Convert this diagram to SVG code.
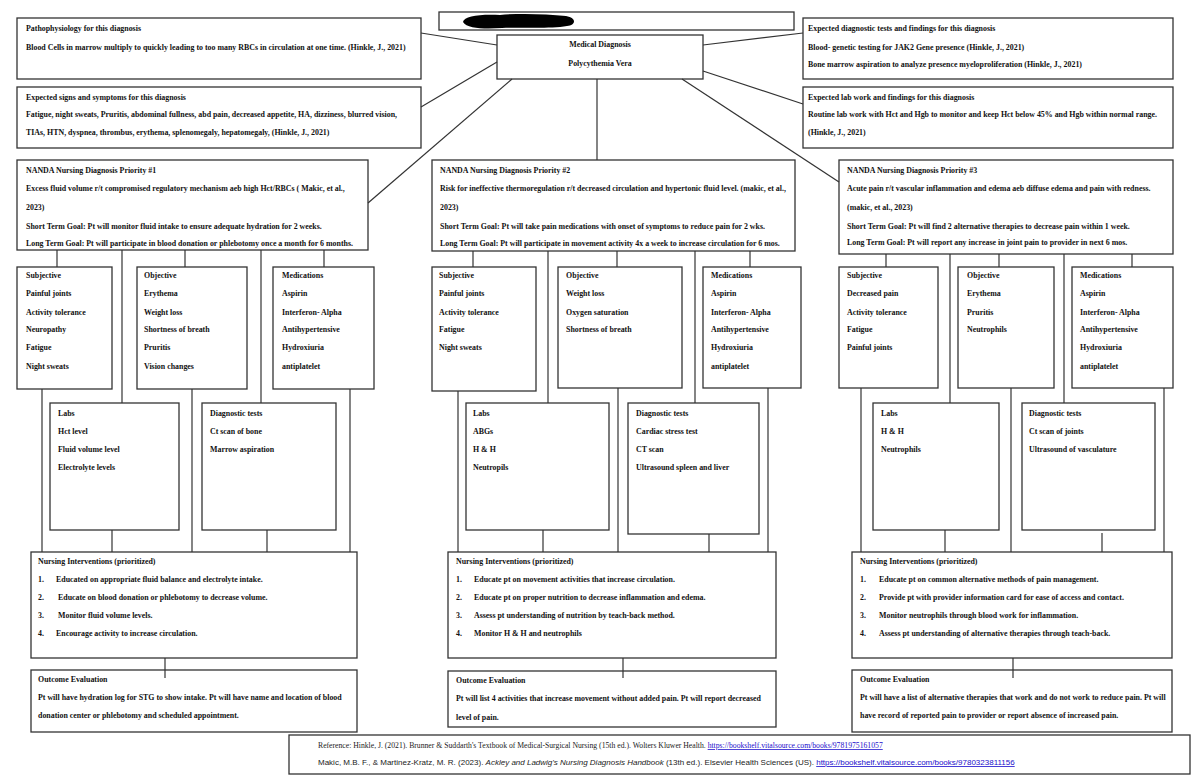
<svg xmlns="http://www.w3.org/2000/svg" width="1200" height="776" viewBox="0 0 1200 776">
<style>
.bg{fill:#fff}
.box{fill:#fff;stroke:#333;stroke-width:1.3}
.t{font-family:"Liberation Serif","Times New Roman",serif;font-size:7.9px;font-weight:bold;fill:#111}
.c{text-anchor:middle}
.conn line{stroke:#333;stroke-width:1.2}
.r1{font-family:"Liberation Serif","Times New Roman",serif;font-size:7.7px;fill:#222}
.r2{font-family:"Liberation Sans",Arial,sans-serif;font-size:8px;fill:#222}
.lnk{fill:#1a0dcc;text-decoration:underline}
</style>
<rect class="bg" x="0" y="0" width="1200" height="776"/>

<g id="pathophysiology">
<rect class="box" x="17" y="18" width="404" height="61"/>
<text class="t" x="26" y="31">Pathophysiology for this diagnosis</text>
<text class="t" x="26" y="50">Blood Cells in marrow multiply to quickly leading to too many RBCs in circulation at one time.  (Hinkle, J., 2021)</text>
</g>
<g id="signs">
<rect class="box" x="17" y="87" width="404" height="61"/>
<text class="t" x="26" y="100">Expected signs and symptoms for this diagnosis</text>
<text class="t" x="26" y="117">Fatigue, night sweats, Pruritis, abdominal fullness, abd pain, decreased appetite, HA, dizziness, blurred vision,</text>
<text class="t" x="26" y="135">TIAs, HTN, dyspnea, thrombus, erythema, splenomegaly, hepatomegaly, (Hinkle, J., 2021)</text>
</g>
<g id="name-bar">
<rect class="box" x="439" y="12" width="355" height="18"/>
<path d="M463,22 C464,16 480,14 500,15 C520,13 546,14 566,16 C577,18 576,25 567,26 C550,29 522,27 502,28 C486,29 467,29 463,22 Z" fill="#000"/>
</g>
<g id="medical-diagnosis">
<rect class="box" x="497" y="35" width="206" height="44"/>
<text class="t c" x="600" y="47">Medical Diagnosis</text>
<text class="t c" x="600" y="66">Polycythemia Vera</text>
</g>
<g id="diagnostic-tests">
<rect class="box" x="803" y="18" width="370" height="61"/>
<text class="t" x="808" y="31">Expected diagnostic tests and findings for this diagnosis</text>
<text class="t" x="808" y="50">Blood- genetic testing for JAK2 Gene presence (Hinkle, J., 2021)</text>
<text class="t" x="808" y="67">Bone marrow aspiration to analyze presence myeloproliferation (Hinkle, J., 2021)</text>
</g>
<g id="lab-work">
<rect class="box" x="803" y="87" width="370" height="61"/>
<text class="t" x="808" y="100">Expected lab work and findings for this diagnosis</text>
<text class="t" x="808" y="117">Routine lab work with Hct and Hgb to monitor and keep Hct below 45% and Hgb within normal range.</text>
<text class="t" x="808" y="135">(Hinkle, J., 2021)</text>
</g>

<g id="nanda1">
<rect class="box" x="17" y="160" width="351" height="90"/>
<text class="t" x="26" y="173">NANDA Nursing Diagnosis Priority #1</text>
<text class="t" x="26" y="191">Excess fluid volume r/t compromised regulatory mechanism aeb high Hct/RBCs ( Makic, et al.,</text>
<text class="t" x="26" y="210">2023)</text>
<text class="t" x="26" y="229">Short Term Goal: Pt will monitor fluid intake to ensure adequate hydration for 2 weeks.</text>
<text class="t" x="26" y="246">Long Term Goal: Pt will participate in blood donation or phlebotomy once a month for 6 months.</text>
</g>
<g id="nanda2">
<rect class="box" x="432" y="160" width="363" height="91"/>
<text class="t" x="440" y="173">NANDA Nursing Diagnosis Priority #2</text>
<text class="t" x="440" y="191">Risk for ineffective thermoregulation r/t decreased circulation and hypertonic fluid level. (makic, et al.,</text>
<text class="t" x="440" y="210">2023)</text>
<text class="t" x="440" y="229">Short Term Goal: Pt will take pain medications with onset of symptoms to reduce pain for 2 wks.</text>
<text class="t" x="440" y="246">Long Term Goal: Pt will participate in movement activity 4x a week to increase circulation for 6 mos.</text>
</g>
<g id="nanda3">
<rect class="box" x="839" y="160" width="334" height="94"/>
<text class="t" x="847" y="173">NANDA Nursing Diagnosis Priority #3</text>
<text class="t" x="847" y="191">Acute pain r/t vascular inflammation and edema aeb diffuse edema and pain with redness.</text>
<text class="t" x="847" y="210">(makic, et al., 2023)</text>
<text class="t" x="847" y="229">Short Term Goal: Pt will find 2 alternative therapies to decrease pain within 1 week.</text>
<text class="t" x="847" y="245">Long Term Goal: Pt will report any increase in joint pain to provider in next 6 mos.</text>
</g>

<!-- column 1 -->
<g id="subjective1">
<rect class="box" x="17" y="267" width="95" height="122"/>
<text class="t" x="26" y="278">Subjective</text>
<text class="t" x="26" y="296">Painful joints</text>
<text class="t" x="26" y="315">Activity tolerance</text>
<text class="t" x="26" y="332">Neuropathy</text>
<text class="t" x="26" y="350">Fatigue</text>
<text class="t" x="26" y="369">Night sweats</text>
</g>
<g id="objective1">
<rect class="box" x="137" y="267" width="110" height="122"/>
<text class="t" x="144" y="278">Objective</text>
<text class="t" x="144" y="296">Erythema</text>
<text class="t" x="144" y="315">Weight loss</text>
<text class="t" x="144" y="332">Shortness of breath</text>
<text class="t" x="144" y="350">Pruritis</text>
<text class="t" x="144" y="369">Vision changes</text>
</g>
<g id="medications1">
<rect class="box" x="273" y="267" width="101" height="122"/>
<text class="t" x="282" y="278">Medications</text>
<text class="t" x="282" y="296">Aspirin</text>
<text class="t" x="282" y="315">Interferon- Alpha</text>
<text class="t" x="282" y="332">Antihypertensive</text>
<text class="t" x="282" y="350">Hydroxiuria</text>
<text class="t" x="282" y="369">antiplatelet</text>
</g>
<g id="labs1">
<rect class="box" x="50" y="403" width="129" height="127"/>
<text class="t" x="58" y="416">Labs</text>
<text class="t" x="58" y="434">Hct level</text>
<text class="t" x="58" y="452">Fluid volume level</text>
<text class="t" x="58" y="470">Electrolyte levels</text>
</g>
<g id="diagtests1">
<rect class="box" x="202" y="403" width="134" height="127"/>
<text class="t" x="210" y="416">Diagnostic tests</text>
<text class="t" x="210" y="434">Ct scan of bone</text>
<text class="t" x="210" y="452">Marrow aspiration</text>
</g>

<!-- column 2 -->
<g id="subjective2">
<rect class="box" x="432" y="267" width="104" height="124"/>
<text class="t" x="439" y="278">Subjective</text>
<text class="t" x="439" y="296">Painful joints</text>
<text class="t" x="439" y="315">Activity tolerance</text>
<text class="t" x="439" y="332">Fatigue</text>
<text class="t" x="439" y="350">Night sweats</text>
</g>
<g id="objective2">
<rect class="box" x="558" y="267" width="124" height="121"/>
<text class="t" x="566" y="278">Objective</text>
<text class="t" x="566" y="296">Weight loss</text>
<text class="t" x="566" y="315">Oxygen saturation</text>
<text class="t" x="566" y="332">Shortness of breath</text>
</g>
<g id="medications2">
<rect class="box" x="703" y="267" width="98" height="121"/>
<text class="t" x="711" y="278">Medications</text>
<text class="t" x="711" y="296">Aspirin</text>
<text class="t" x="711" y="315">Interferon- Alpha</text>
<text class="t" x="711" y="332">Antihypertensive</text>
<text class="t" x="711" y="350">Hydroxiuria</text>
<text class="t" x="711" y="369">antiplatelet</text>
</g>
<g id="labs2">
<rect class="box" x="466" y="403" width="143" height="127"/>
<text class="t" x="473" y="416">Labs</text>
<text class="t" x="473" y="434">ABGs</text>
<text class="t" x="473" y="452">H &amp; H</text>
<text class="t" x="473" y="470">Neutropils</text>
</g>
<g id="diagtests2">
<rect class="box" x="628" y="403" width="131" height="131"/>
<text class="t" x="636" y="416">Diagnostic tests</text>
<text class="t" x="636" y="434">Cardiac stress test</text>
<text class="t" x="636" y="452">CT scan</text>
<text class="t" x="636" y="470">Ultrasound spleen and liver</text>
</g>

<!-- column 3 -->
<g id="subjective3">
<rect class="box" x="839" y="267" width="99" height="121"/>
<text class="t" x="847" y="278">Subjective</text>
<text class="t" x="847" y="296">Decreased pain</text>
<text class="t" x="847" y="315">Activity tolerance</text>
<text class="t" x="847" y="332">Fatigue</text>
<text class="t" x="847" y="350">Painful joints</text>
</g>
<g id="objective3">
<rect class="box" x="958" y="267" width="96" height="121"/>
<text class="t" x="967" y="278">Objective</text>
<text class="t" x="967" y="296">Erythema</text>
<text class="t" x="967" y="315">Pruritis</text>
<text class="t" x="967" y="332">Neutrophils</text>
</g>
<g id="medications3">
<rect class="box" x="1072" y="267" width="101" height="121"/>
<text class="t" x="1080" y="278">Medications</text>
<text class="t" x="1080" y="296">Aspirin</text>
<text class="t" x="1080" y="315">Interferon- Alpha</text>
<text class="t" x="1080" y="332">Antihypertensive</text>
<text class="t" x="1080" y="350">Hydroxiuria</text>
<text class="t" x="1080" y="369">antiplatelet</text>
</g>
<g id="labs3">
<rect class="box" x="873" y="403" width="126" height="127"/>
<text class="t" x="881" y="416">Labs</text>
<text class="t" x="881" y="434">H &amp; H</text>
<text class="t" x="881" y="452">Neutrophils</text>
</g>
<g id="diagtests3">
<rect class="box" x="1022" y="403" width="133" height="127"/>
<text class="t" x="1029" y="416">Diagnostic tests</text>
<text class="t" x="1029" y="434">Ct scan of joints</text>
<text class="t" x="1029" y="452">Ultrasound of vasculature</text>
</g>

<!-- interventions -->
<g id="interventions1">
<rect class="box" x="31" y="552" width="326" height="106"/>
<text class="t" x="38" y="564">Nursing Interventions (prioritized)</text>
<text class="t" x="38" y="582">1.</text><text class="t" x="56" y="582">Educated on appropriate fluid balance and electrolyte intake.</text>
<text class="t" x="38" y="600">2.</text><text class="t" x="58" y="600">Educate on blood donation or phlebotomy to decrease volume.</text>
<text class="t" x="38" y="618">3.</text><text class="t" x="58" y="618">Monitor fluid volume levels.</text>
<text class="t" x="38" y="636">4.</text><text class="t" x="56" y="636">Encourage activity to increase circulation.</text>
</g>
<g id="interventions2">
<rect class="box" x="448" y="552" width="328" height="106"/>
<text class="t" x="456" y="564">Nursing Interventions (prioritized)</text>
<text class="t" x="456" y="582">1.</text><text class="t" x="474" y="582">Educate pt on movement activities that increase circulation.</text>
<text class="t" x="456" y="600">2.</text><text class="t" x="474" y="600">Educate pt on proper nutrition to decrease inflammation and edema.</text>
<text class="t" x="456" y="618">3.</text><text class="t" x="474" y="618">Assess pt understanding of nutrition by teach-back method.</text>
<text class="t" x="456" y="636">4.</text><text class="t" x="474" y="636">Monitor H &amp; H and neutrophils</text>
</g>
<g id="interventions3">
<rect class="box" x="852" y="552" width="320" height="106"/>
<text class="t" x="860" y="564">Nursing Interventions (prioritized)</text>
<text class="t" x="860" y="582">1.</text><text class="t" x="879" y="582">Educate pt on common alternative methods of pain management.</text>
<text class="t" x="860" y="600">2.</text><text class="t" x="879" y="600">Provide pt with provider information card for ease of access and contact.</text>
<text class="t" x="860" y="618">3.</text><text class="t" x="879" y="618">Monitor neutrophils through blood work for inflammation.</text>
<text class="t" x="860" y="636">4.</text><text class="t" x="879" y="636">Assess pt understanding of alternative therapies through teach-back.</text>
</g>

<!-- outcomes -->
<g id="outcome1">
<rect class="box" x="31" y="670" width="326" height="62"/>
<text class="t" x="38" y="682">Outcome Evaluation</text>
<text class="t" x="38" y="700">Pt will have hydration log for STG to show intake. Pt will have name and location of blood</text>
<text class="t" x="38" y="718">donation center or phlebotomy and scheduled appointment.</text>
</g>
<g id="outcome2">
<rect class="box" x="448" y="671" width="328" height="56"/>
<text class="t" x="456" y="683">Outcome Evaluation</text>
<text class="t" x="456" y="701">Pt will list 4 activities that increase movement without added pain. Pt will report decreased</text>
<text class="t" x="456" y="720">level of pain.</text>
</g>
<g id="outcome3">
<rect class="box" x="852" y="670" width="320" height="62"/>
<text class="t" x="860" y="682">Outcome Evaluation</text>
<text class="t" x="860" y="700">Pt will have a list of alternative therapies that work and do not work to reduce pain. Pt will</text>
<text class="t" x="860" y="718">have record of reported pain to provider or report absence of increased pain.</text>
</g>

<g id="references">
<rect class="box" x="289" y="735" width="901" height="39"/>
<text class="r1" x="318" y="748">Reference: Hinkle, J. (2021). Brunner &amp; Suddarth's Textbook of Medical-Surgical Nursing (15th ed.). Wolters Kluwer Health. <tspan class="lnk">https://bookshelf.vitalsource.com/books/9781975161057</tspan></text>
<text class="r2" x="318" y="765">Makic, M.B. F., &amp; Martinez-Kratz, M. R. (2023). <tspan font-style="italic">Ackley and Ladwig's Nursing Diagnosis Handbook</tspan> (13th ed.). Elsevier Health Sciences (US). <tspan class="lnk">https://bookshelf.vitalsource.com/books/9780323811156</tspan></text>
</g>

<g id="connectors" class="conn">
<line x1="421" y1="33" x2="497" y2="45"/>
<line x1="421" y1="107" x2="497" y2="62"/>
<line x1="368" y1="203" x2="512" y2="79"/>
<line x1="597" y1="79" x2="597" y2="160"/>
<line x1="682" y1="79" x2="839" y2="182"/>
<line x1="703" y1="71" x2="803" y2="104"/>
<line x1="703" y1="45" x2="803" y2="33"/>
<!-- col1 -->
<line x1="57" y1="250" x2="57" y2="267"/>
<line x1="122" y1="250" x2="122" y2="403"/>
<line x1="185" y1="250" x2="185" y2="267"/>
<line x1="261" y1="250" x2="261" y2="403"/>
<line x1="324" y1="250" x2="324" y2="267"/>
<line x1="42" y1="389" x2="42" y2="552"/>
<line x1="112" y1="530" x2="112" y2="552"/>
<line x1="192" y1="389" x2="192" y2="552"/>
<line x1="267" y1="530" x2="267" y2="552"/>
<line x1="350" y1="389" x2="350" y2="552"/>
<line x1="165" y1="658" x2="165" y2="678"/>
<!-- col2 -->
<line x1="473" y1="251" x2="473" y2="267"/>
<line x1="548" y1="251" x2="548" y2="403"/>
<line x1="617" y1="251" x2="617" y2="267"/>
<line x1="695" y1="251" x2="695" y2="403"/>
<line x1="750" y1="251" x2="750" y2="267"/>
<line x1="458" y1="391" x2="458" y2="552"/>
<line x1="543" y1="530" x2="543" y2="552"/>
<line x1="618" y1="388" x2="618" y2="552"/>
<line x1="709" y1="534" x2="709" y2="552"/>
<line x1="768" y1="388" x2="768" y2="552"/>
<line x1="623" y1="658" x2="623" y2="678"/>
<!-- col3 -->
<line x1="886" y1="254" x2="886" y2="267"/>
<line x1="950" y1="254" x2="950" y2="403"/>
<line x1="999" y1="254" x2="999" y2="267"/>
<line x1="1064" y1="254" x2="1064" y2="403"/>
<line x1="1132" y1="254" x2="1132" y2="267"/>
<line x1="861" y1="388" x2="861" y2="552"/>
<line x1="945" y1="530" x2="945" y2="552"/>
<line x1="1011" y1="388" x2="1011" y2="552"/>
<line x1="1102" y1="533" x2="1102" y2="552"/>
<line x1="1164" y1="388" x2="1164" y2="552"/>
<line x1="1013" y1="658" x2="1013" y2="678"/>
</g>
</svg>
